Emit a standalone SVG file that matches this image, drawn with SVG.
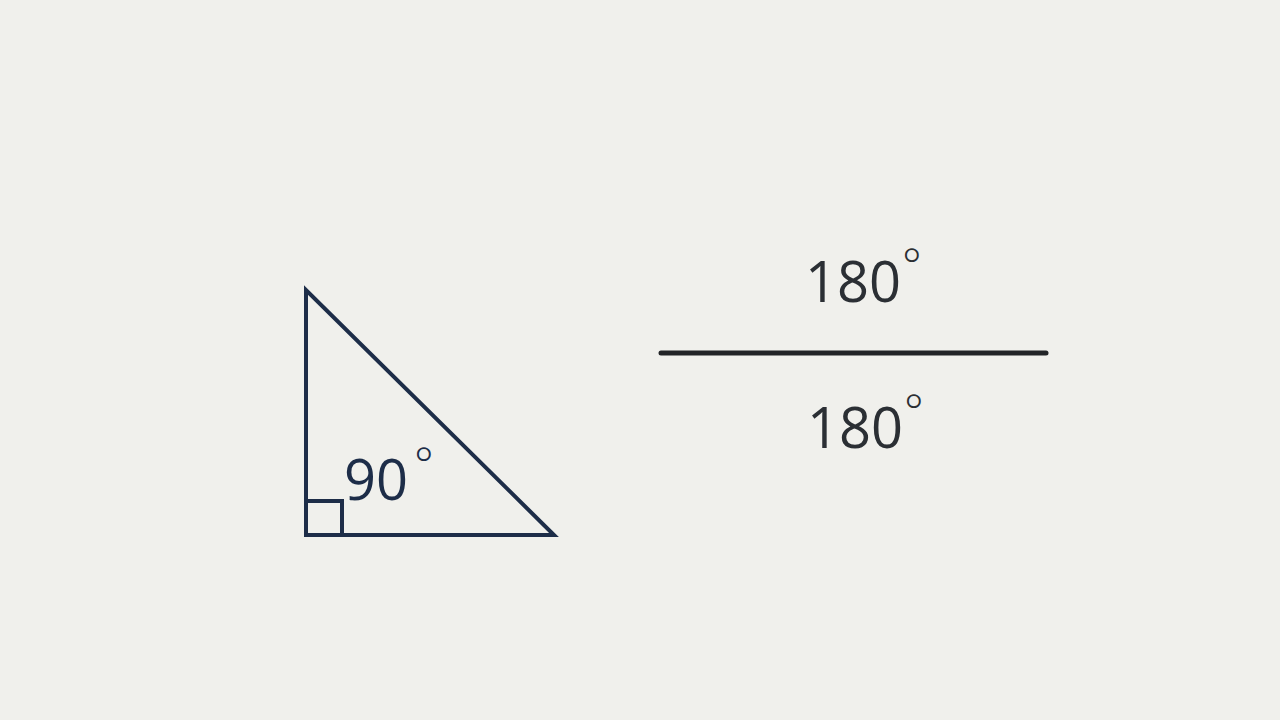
<svg xmlns="http://www.w3.org/2000/svg" width="1280" height="720" viewBox="0 0 1280 720">
<style>
.bg{fill:#f0f0ec}
.shape{fill:none;stroke:#1d2d48;stroke-width:4;stroke-linejoin:miter}
.num{font-family:"Open Sans","Noto Sans",sans-serif;font-size:56px;font-weight:400;fill:#2b2f34}
.navy{fill:#1d2d48}
.deg{font-size:46px;font-weight:300}
</style>
<rect class="bg" x="0" y="0" width="1280" height="720"/>
<g id="triangle">
<polygon class="shape" points="306,290 306,535 554,535"/>
<polyline class="shape" points="306,501 342,501 342,535"/>
<text class="num navy" x="344" y="500">90<tspan class="deg" x="414" y="481" font-size="43">°</tspan></text>
</g>
<g id="fraction">
<line x1="661" y1="353" x2="1046" y2="353" stroke="#222427" stroke-width="5" stroke-linecap="round"/>
<text class="num" x="805" y="302">180<tspan class="deg" x="902" y="282">°</tspan></text>
<text class="num" x="807" y="448">180<tspan class="deg" x="904" y="428">°</tspan></text>
</g>
</svg>
